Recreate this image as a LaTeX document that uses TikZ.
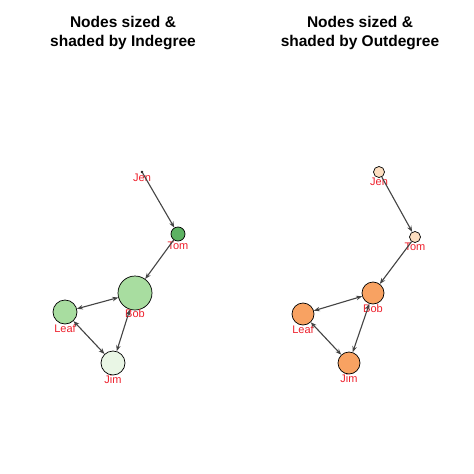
\documentclass[tikz,border=0pt]{standalone}
\usepackage{fontspec}
\setmainfont{Liberation Sans}
\usetikzlibrary{arrows.meta}
\definecolor{tomgreen}{RGB}{92,178,98}
\definecolor{midgreen}{RGB}{168,221,160}
\definecolor{palegreen}{RGB}{233,246,229}
\definecolor{deeporange}{RGB}{248,162,98}
\definecolor{peach}{RGB}{253,222,192}
\definecolor{lblred}{RGB}{238,32,44}
\definecolor{edgegray}{RGB}{68,68,68}
\tikzset{
  vert/.style={circle, draw=black, line width=0.7pt, inner sep=0pt, label distance=1pt},
  lbl/.style={font=\fontsize{11}{11}\selectfont, text=lblred, inner sep=0pt},
  title/.style={font=\fontsize{15.5}{19}\selectfont\bfseries, align=center},
  arr/.style={-{Stealth[length=6pt,width=4.5pt]}, draw=edgegray, line width=1.1pt},
  biarr/.style={{Stealth[length=6pt,width=4.5pt]}-{Stealth[length=6pt,width=4.5pt]}, draw=edgegray, line width=1.1pt}}

\begin{document}
\begin{tikzpicture}[x=1pt, y=-1pt]
  \useasboundingbox[fill=white] (0,0) rectangle (474,474);
  % indegree panel
  \node[title] (tin) at (123,33) {Nodes sized \&\\shaded by Indegree};
  \node[vert, fill=white, minimum size=2pt, label={[lbl]below:Jen}] (jen1) at (142,172) {};
  \node[vert, fill=tomgreen, minimum size=14pt, label={[lbl]below:Tom}] (tom1) at (178,234) {};
  \node[vert, fill=midgreen, minimum size=34pt, label={[lbl, label distance=-1pt]below:Bob}] (bob1) at (135,293) {};
  \node[vert, fill=midgreen, minimum size=24pt, label={[lbl]below:Leaf}] (leaf1) at (65,312) {};
  \node[vert, fill=palegreen, minimum size=24pt, label={[lbl]below:Jim}] (jim1) at (113,363) {};
  \draw[arr] (jen1) -- (tom1); \draw[arr] (tom1) -- (bob1);
  \draw[biarr] (leaf1) -- (bob1); \draw[biarr] (leaf1) -- (jim1); \draw[biarr] (bob1) -- (jim1);
  % outdegree panel
  \node[title] (tout) at (360,33) {Nodes sized \&\\shaded by Outdegree};
  \node[vert, fill=peach, minimum size=11pt, label={[lbl]below:Jen}] (jen2) at (379,172) {};
  \node[vert, fill=peach, minimum size=11pt, label={[lbl]below:Tom}] (tom2) at (415,237) {};
  \node[vert, fill=deeporange, minimum size=22pt, label={[lbl]below:Bob}] (bob2) at (373,293) {};
  \node[vert, fill=deeporange, minimum size=22pt, label={[lbl]below:Leaf}] (leaf2) at (303,314) {};
  \node[vert, fill=deeporange, minimum size=22pt, label={[lbl]below:Jim}] (jim2) at (349,363) {};
  \draw[arr] (jen2) -- (tom2); \draw[arr] (tom2) -- (bob2);
  \draw[biarr] (leaf2) -- (bob2); \draw[biarr] (leaf2) -- (jim2); \draw[biarr] (bob2) -- (jim2);
\end{tikzpicture}
\end{document}
